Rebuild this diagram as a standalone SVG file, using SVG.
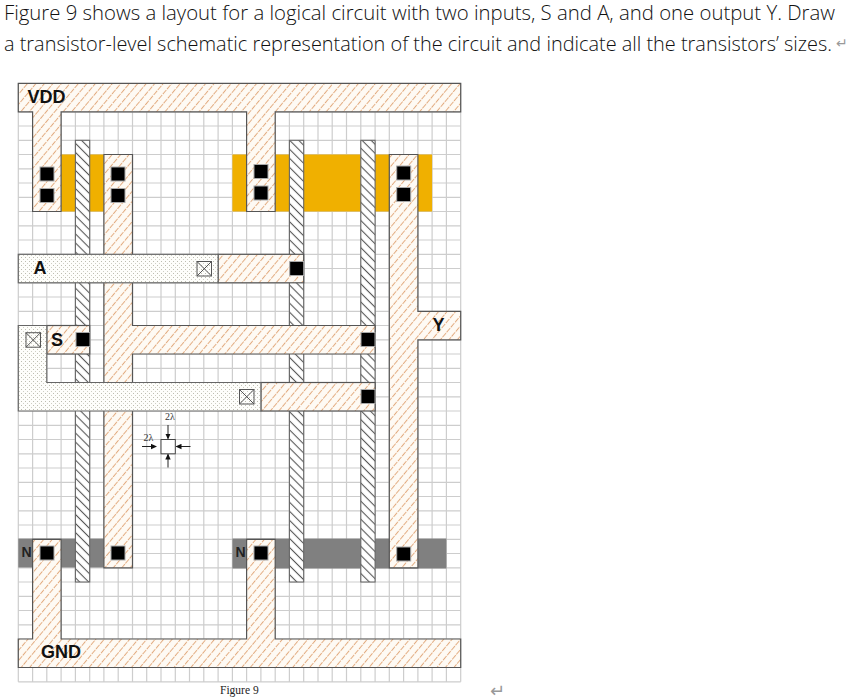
<svg xmlns="http://www.w3.org/2000/svg" width="851" height="700" viewBox="0 0 851 700">
<style>
.head{font-family:"Open Sans","Noto Sans",sans-serif;font-weight:300;font-size:20px;fill:#111}
.lab{font-family:"Liberation Sans",Arial,sans-serif;font-size:18px;font-weight:700;fill:#111}
.n{font-family:"Liberation Sans",Arial,sans-serif;font-size:14px;font-weight:700;fill:#222}
.cap{font-family:"Liberation Serif","Times New Roman",serif;font-size:11.5px;fill:#222}
.lam{font-family:"Liberation Serif","Times New Roman",serif;font-size:10px;fill:#333}
.pm{font-family:"DejaVu Sans",sans-serif;fill:#999}
.metal{fill:url(#mh);stroke:#555;stroke-width:1.2}
.poly{fill:url(#ph);stroke:#666;stroke-width:1.1}
.dot{fill:url(#dh);stroke:#666;stroke-width:1.2}
.ct{fill:#000;stroke:#aaa;stroke-width:1}
.xc{fill:none;stroke:#555;stroke-width:1}
.wire{stroke:#222;stroke-width:1;fill:none;marker-end:url(#ah)}
</style>
<defs>
<pattern id="mh" patternUnits="userSpaceOnUse" width="6.500" height="6.500" patternTransform="rotate(-50)">
<rect width="6.500" height="6.500" fill="#fefaf4"/>
<line x1="0" y1="3.250" x2="6.500" y2="3.250" stroke="#e2ab80" stroke-width="1" stroke-dasharray="5.500 1"/>
</pattern>
<pattern id="ph" patternUnits="userSpaceOnUse" width="6.400" height="6.400" patternTransform="rotate(-45)">
<rect width="6.400" height="6.400" fill="#fff"/>
<line x1="3.200" y1="0" x2="3.200" y2="6.400" stroke="#555" stroke-width="1.100"/>
</pattern>
<pattern id="dh" patternUnits="userSpaceOnUse" width="4" height="4">
<rect width="4" height="4" fill="#fefefb"/>
<rect x="1" y="1" width="1" height="1" fill="#bdbdb0"/>
<rect x="3" y="3" width="1" height="1" fill="#cfcfc4"/>
</pattern>
<marker id="ah" markerWidth="6" markerHeight="6" refX="5" refY="3" orient="auto" markerUnits="userSpaceOnUse">
<path d="M0 0.3L6 3L0 5.700Z" fill="#111"/>
</marker>
</defs>
<rect width="851" height="700" fill="#fff"/>
<g id="heading">
<text class="head" x="4" y="20" textLength="831" lengthAdjust="spacingAndGlyphs">Figure 9 shows a layout for a logical circuit with two inputs, S and A, and one output Y. Draw</text>
<text class="head" x="4" y="51" textLength="828" lengthAdjust="spacingAndGlyphs">a transistor-level schematic representation of the circuit and indicate all the transistors’ sizes.</text>
<text class="pm" x="836" y="48" font-size="14">↵</text>
</g>
<path id="grid" fill="none" stroke="#cdcdcd" stroke-width="1.2" d="M18.3 83.3V681.8M32.6 83.3V681.8M46.8 83.3V681.8M61.1 83.3V681.8M75.4 83.3V681.8M89.7 83.3V681.8M103.9 83.3V681.8M118.2 83.3V681.8M132.5 83.3V681.8M146.7 83.3V681.8M161 83.3V681.8M175.3 83.3V681.8M189.5 83.3V681.8M203.8 83.3V681.8M218.1 83.3V681.8M232.4 83.3V681.8M246.6 83.3V681.8M260.9 83.3V681.8M275.2 83.3V681.8M289.4 83.3V681.8M303.7 83.3V681.8M318 83.3V681.8M332.2 83.3V681.8M346.5 83.3V681.8M360.8 83.3V681.8M375.1 83.3V681.8M389.3 83.3V681.8M403.6 83.3V681.8M417.9 83.3V681.8M432.1 83.3V681.8M446.4 83.3V681.8M460.7 83.3V681.8M18.3 97.5H460.7M18.3 111.8H460.7M18.3 126H460.7M18.3 140.3H460.7M18.3 154.5H460.7M18.3 168.8H460.7M18.3 183H460.7M18.3 197.3H460.7M18.3 211.5H460.7M18.3 225.8H460.7M18.3 240H460.7M18.3 254.3H460.7M18.3 268.5H460.7M18.3 282.8H460.7M18.3 297H460.7M18.3 311.3H460.7M18.3 325.5H460.7M18.3 339.8H460.7M18.3 354H460.7M18.3 368.3H460.7M18.3 382.5H460.7M18.3 396.8H460.7M18.3 411H460.7M18.3 425.3H460.7M18.3 439.5H460.7M18.3 453.8H460.7M18.3 468H460.7M18.3 482.3H460.7M18.3 496.5H460.7M18.3 510.8H460.7M18.3 525H460.7M18.3 539.3H460.7M18.3 553.5H460.7M18.3 567.8H460.7M18.3 582H460.7M18.3 596.3H460.7M18.3 610.5H460.7M18.3 624.8H460.7M18.3 639H460.7M18.3 653.3H460.7M18.3 667.5H460.7M18.3 681.8H460.7"/>
<g id="diffusion">
<rect x="61.1" y="154.5" width="42.8" height="57" fill="#f0b000"/>
<rect x="232.4" y="154.5" width="199.7" height="57" fill="#f0b000"/>
<rect x="18.3" y="538.5" width="85.6" height="29" fill="#808080"/>
<rect x="232.4" y="538.5" width="214" height="30" fill="#808080"/>
</g>
<g id="gates">
<rect class="poly" x="75.4" y="140.3" width="14.3" height="441.7"/>
<rect class="poly" x="289.4" y="140.3" width="14.3" height="441.7"/>
<rect class="poly" x="360.8" y="140.3" width="14.3" height="441.7"/>
</g>
<g id="vdd">
<path class="metal" d="M18.3 83.3H460.7V111.8H275.2V211.5H246.6V111.8H61.1V211.5H32.6V111.8H18.3Z"/>
<rect class="ct" x="40" y="167" width="14" height="14"/>
<rect class="ct" x="40" y="188.500" width="14" height="14"/>
<rect class="ct" x="254" y="164.500" width="14" height="14"/>
<rect class="ct" x="254" y="186" width="14" height="14"/>
<text class="lab" x="27.500" y="102.700">VDD</text>
</g>
<g id="gnd">
<path class="metal" d="M18.3 639H32.6V539.3H61.1V639H246.6V539.3H275.2V639H460.7V667.5H18.3Z"/>
<rect class="ct" x="40" y="546" width="14" height="14"/>
<rect class="ct" x="254" y="546" width="14" height="14"/>
<text class="lab" x="41" y="657.500">GND</text>
<text class="n" x="21.500" y="556.700">N</text>
<text class="n" x="235.500" y="556.700">N</text>
</g>
<g id="internal-net">
<path class="metal" d="M103.9 154.5H132.5V325.5H375.1V354H132.5V567.8H103.9Z"/>
<rect class="ct" x="111" y="167" width="14" height="14"/>
<rect class="ct" x="111" y="188.500" width="14" height="14"/>
<rect class="ct" x="111" y="546" width="14" height="14"/>
<rect class="ct" x="361" y="332.500" width="14" height="14"/>
</g>
<g id="y-output">
<path class="metal" d="M389.3 154.5H417.9V311.3H460.7V339.8H417.9V567.8H389.3Z"/>
<rect class="ct" x="396.700" y="166" width="14" height="14"/>
<rect class="ct" x="396.700" y="187.500" width="14" height="14"/>
<rect class="ct" x="396.700" y="547" width="14" height="14"/>
<text class="lab" x="432.500" y="330.700">Y</text>
</g>
<g id="input-a">
<rect class="metal" x="218.100" y="254.300" width="85.600" height="28.500"/>
<rect class="dot" x="18.300" y="254.300" width="199.800" height="28.500"/>
<rect class="ct" x="289.700" y="261.500" width="14" height="14"/>
<rect class="xc" x="197" y="261.500" width="14.500" height="14.500"/>
<path class="xc" d="M197 261.5L211.5 276M211.5 261.5L197 276"/>
<text class="lab" x="33.500" y="273.500">A</text>
</g>
<g id="input-s">
<rect class="metal" x="46.800" y="325.500" width="42.900" height="28.500"/>
<rect class="metal" x="260.900" y="382.500" width="114.200" height="28.500"/>
<path class="dot" d="M18.3 325.5H46.8V382.5H260.9V411H18.3Z"/>
<rect class="ct" x="76" y="332.500" width="14" height="14"/>
<rect class="ct" x="361" y="389.500" width="14" height="14"/>
<rect class="xc" x="26" y="332.700" width="14.500" height="14.500"/>
<path class="xc" d="M26 332.7L40.5 347.2M40.5 332.7L26 347.2"/>
<rect class="xc" x="239.500" y="389.500" width="14.500" height="14.500"/>
<path class="xc" d="M239.5 389.5L254 404M254 389.5L239.5 404"/>
<text class="lab" x="51" y="345.500">S</text>
</g>
<g id="scale">
<rect x="161" y="439.500" width="14.300" height="14.300" fill="#fff" stroke="#444" stroke-width="1"/>
<text class="lam" x="165" y="420">2λ</text>
<text class="lam" x="143.500" y="441">2λ</text>
</g>
<g id="connectors">
<path class="wire" d="M168 425V438.5"/>
<path class="wire" d="M168 467.5V454.5"/>
<path class="wire" d="M142 446.5H156"/>
<path class="wire" d="M190.5 446.5H176.5"/>
</g>
<g id="caption">
<text class="cap" x="220" y="694">Figure 9</text>
<text class="pm" x="490" y="697" font-size="18">↵</text>
</g>
</svg>
